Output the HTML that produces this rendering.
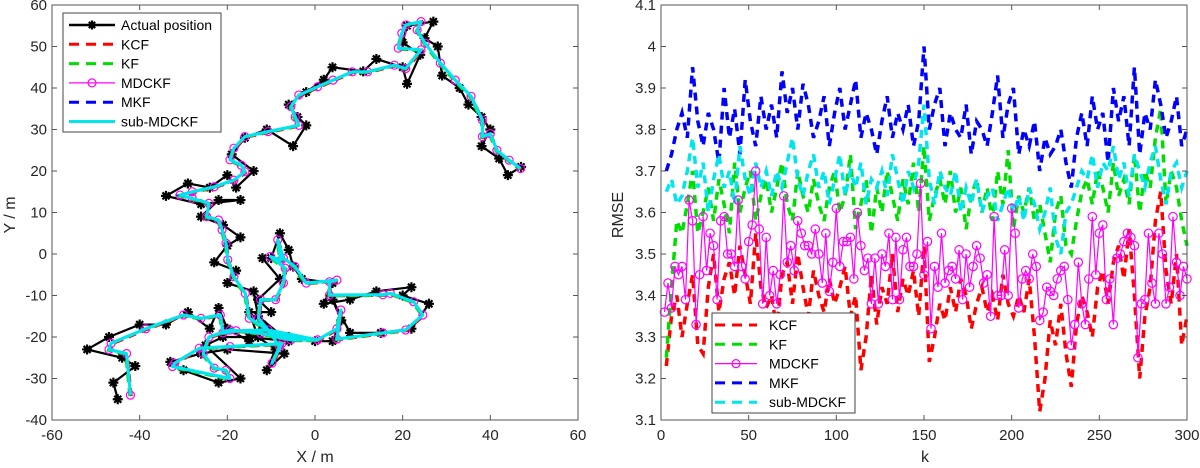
<!DOCTYPE html>
<html><head><meta charset="utf-8"><style>
body{margin:0;background:#fff;}
svg{display:block;font-family:"Liberation Sans",Arial,sans-serif;}
</style></head><body>
<svg id="fig" width="1200" height="468" viewBox="0 0 1200 468">
<g id="left"></g>
<g id="right"></g>
</svg>
<script>
// ---------- Left chart data ----------
const actualX=[-45,-46,-41,-44,-52,-47,-40,-34,-29,-24,-22,-20,-15,-12,-6,0,4,6,4,8,15,22,26,20,22,14,8,2,4,-3,-5,-6,-8,-10,-12,-8,-13,-10,-15,-13,-9,-11,-7,-20,-26,-33,-30,-22,-17,-25,-21,-15,-6,-13,-14,-20,-18,-23,-20,-17,-21,-26,-22,-17,-26,-34,-29,-24,-20,-18,-14,-19,-16,-11,-5,-2,-4,-6,-2,2,4,11,14,20,21,24,20,21,27,25,28,29,33,35,38,40,38,42,44,47];
const actualY=[-35,-31,-27,-25,-23,-20,-17,-17,-14,-18,-13,-18,-21,-17,-20,-21,-21,-16,-11,-19,-19,-18,-12,-10,-8,-9,-11,-12,-7,-6,-3,1,5,-1,-1,-6,-11,-14,-14,-20,-23,-28,-24,-23,-24,-26,-28,-31,-30,-22,-20,-20,-21,-15,-9,-7,-4,-2,2,4,7,9,13,13,12,14,17,16,19,16,20,24,28,30,26,31,33,36,39,42,45,44,47,45,41,48,51,55,56,52,50,43,40,36,33,30,26,23,19,21];
const estX=[-42.1,-43,-47,-46.5,-38.6,-30,-26,-21.6,-21,-18,-10.7,-9,0.6,5,5.9,5,15.5,20.7,24.6,22.5,17.2,15.5,3.3,3.3,5,-2,-4.6,-7.2,-8.5,-7.8,-10.2,-6.8,-7.2,-9,-12.4,-12.9,-10.7,-8.1,-9.8,-7.6,-19.4,-26.4,-32,-32.5,-19.4,-20.3,-23,-25.5,-24.2,-19.4,-12.4,-5.5,0.6,-10.7,-15,-15.9,-18.5,-19.9,-20.3,-21.2,-22,-24.7,-24.2,-28,-30.8,-28,-23,-18.5,-16,-16.8,-19.4,-18.5,-16,-10.7,-3.7,-4.5,-5.5,-3.7,0.6,4.1,8.5,12,18.1,20.7,24.2,19,19.8,20.7,24.2,23.3,25.1,28.6,32,35.6,38.2,38.2,40,41.5,44.3,46.9];
const estY=[-34,-24,-23,-21.5,-18,-14.7,-15.5,-14.7,-19,-18.5,-18.3,-19.5,-20.7,-18,-13.5,-20.5,-19,-18.3,-14.7,-11.5,-9.5,-9.8,-9.9,-6.7,-6.3,-7,-3,-1,3.4,-1.5,-0.6,-3.4,-7,-11,-11,-15.5,-18.3,-22.3,-26.3,-21.6,-22.3,-22.7,-26.3,-27.1,-30,-28,-27.5,-24,-20,-18.3,-19.1,-20.7,-20.7,-18.3,-15.5,-9.5,-5.5,-1.4,2.6,5.8,8.2,9,12.2,13.4,14.2,15,16.2,17.8,19.8,21.4,22.7,25.5,28.3,29.5,31,33,35.5,38.3,40.3,41.9,43.9,43.9,45.5,44.7,49.2,49.6,53.2,55.2,56,54,50.8,46,41.9,38,32.3,28.3,29,25,22.6,20.6];
const leftXTicks=[-60,-40,-20,0,20,40,60];
const leftYTicks=[60,50,40,30,20,10,0,-10,-20,-30,-40];
// ---------- Right chart data ----------
const kcf=[3.23,3.35,3.40,3.30,3.38,3.45,3.28,3.26,3.42,3.50,3.36,3.44,3.48,3.40,3.52,3.45,3.38,3.55,3.42,3.37,
3.40,3.32,3.45,3.48,3.38,3.50,3.42,3.35,3.46,3.40,
3.36,3.44,3.38,3.42,3.47,3.35,3.40,3.22,3.30,3.45,
3.33,3.42,3.38,3.50,3.36,3.44,3.40,3.46,3.35,3.52,
3.24,3.30,3.38,3.34,3.42,3.36,3.44,3.40,3.32,3.38,
3.42,3.36,3.40,3.34,3.45,3.38,3.35,3.40,3.36,3.44,
3.30,3.12,3.20,3.34,3.28,3.38,3.26,3.18,3.33,3.40,
3.36,3.30,3.42,3.46,3.38,3.48,3.52,3.44,3.56,3.40,
3.20,3.35,3.42,3.58,3.65,3.46,3.38,3.50,3.28,3.35];
const kf=[3.25,3.42,3.58,3.55,3.62,3.70,3.55,3.60,3.66,3.58,3.68,3.62,3.55,3.72,3.60,3.66,3.70,3.58,3.64,3.68,
3.60,3.66,3.72,3.62,3.58,3.70,3.64,3.60,3.68,3.62,
3.58,3.66,3.70,3.60,3.64,3.74,3.56,3.62,3.68,3.55,
3.66,3.60,3.70,3.64,3.58,3.68,3.62,3.72,3.60,3.76,
3.58,3.64,3.68,3.62,3.70,3.60,3.66,3.56,3.64,3.68,
3.60,3.66,3.58,3.70,3.62,3.75,3.56,3.64,3.60,3.66,
3.58,3.62,3.55,3.48,3.60,3.64,3.52,3.50,3.58,3.65,
3.68,3.62,3.70,3.66,3.60,3.72,3.64,3.68,3.62,3.74,
3.60,3.70,3.66,3.78,3.85,3.62,3.70,3.66,3.58,3.52];
const mkf=[3.70,3.74,3.80,3.84,3.78,3.95,3.82,3.76,3.84,3.80,3.72,3.90,3.78,3.85,3.74,3.92,3.82,3.76,3.88,3.80,
3.86,3.78,3.94,3.84,3.90,3.80,3.91,3.86,3.78,3.82,
3.88,3.76,3.84,3.90,3.80,3.86,3.92,3.78,3.84,3.80,
3.74,3.82,3.88,3.78,3.84,3.80,3.86,3.76,3.82,4.00,
3.80,3.86,3.90,3.76,3.84,3.80,3.78,3.86,3.74,3.82,
3.80,3.76,3.84,3.93,3.78,3.86,3.90,3.74,3.80,3.76,
3.82,3.70,3.78,3.74,3.76,3.80,3.72,3.66,3.78,3.84,
3.76,3.88,3.80,3.84,3.72,3.90,3.82,3.88,3.76,3.95,
3.74,3.84,3.80,3.92,3.86,3.78,3.82,3.88,3.76,3.80];
const sub=[3.65,3.68,3.62,3.64,3.70,3.78,3.66,3.72,3.60,3.68,3.74,3.66,3.70,3.62,3.76,3.68,3.64,3.72,3.66,3.70,
3.64,3.70,3.66,3.72,3.78,3.68,3.64,3.70,3.74,3.66,
3.70,3.62,3.68,3.74,3.64,3.70,3.66,3.72,3.62,3.68,
3.66,3.70,3.64,3.74,3.68,3.62,3.70,3.66,3.72,3.86,
3.68,3.62,3.70,3.66,3.64,3.70,3.60,3.66,3.62,3.68,
3.60,3.64,3.66,3.58,3.62,3.66,3.60,3.64,3.58,3.66,
3.62,3.56,3.60,3.66,3.54,3.50,3.60,3.62,3.66,3.70,
3.68,3.74,3.66,3.72,3.70,3.76,3.68,3.72,3.64,3.74,
3.70,3.66,3.72,3.76,3.68,3.62,3.70,3.72,3.66,3.70];
const mdckf=[3.36,3.43,3.37,3.47,3.45,3.47,3.39,3.63,3.58,3.33,3.45,3.59,3.46,3.55,3.52,3.39,3.58,3.59,3.50,3.50,
3.47,3.63,3.47,3.44,3.53,3.57,3.70,3.56,3.38,3.54,3.40,3.46,3.38,3.45,3.64,3.48,3.52,3.46,3.58,3.55,
3.52,3.52,3.50,3.56,3.50,3.43,3.55,3.41,3.48,3.61,3.47,3.53,3.53,3.54,3.44,3.60,3.52,3.46,3.49,3.38,
3.49,3.38,3.50,3.47,3.55,3.39,3.54,3.39,3.51,3.54,3.47,3.47,3.50,3.67,3.45,3.53,3.32,3.47,3.42,3.55,
3.43,3.46,3.47,3.44,3.51,3.39,3.50,3.42,3.47,3.52,3.49,3.43,3.45,3.35,3.59,3.40,3.40,3.51,3.40,3.61,
3.55,3.37,3.44,3.46,3.44,3.50,3.47,3.34,3.36,3.42,3.41,3.40,3.44,3.46,3.47,3.39,3.28,3.33,3.48,3.38,
3.33,3.44,3.59,3.45,3.55,3.57,3.39,3.44,3.33,3.49,3.50,3.53,3.55,3.54,3.52,3.25,3.38,3.39,3.55,3.43,
3.38,3.55,3.50,3.38,3.42,3.59,3.48,3.40,3.47,3.44];
const rightXTicks=[0,50,100,150,200,250,300];
const rightYTicks=[3.1,3.2,3.3,3.4,3.5,3.6,3.7,3.8,3.9,4.0,4.1];

const NS='http://www.w3.org/2000/svg';
function mk(parent,tag,attrs,text){const e=document.createElementNS(NS,tag);for(const k in attrs)e.setAttribute(k,attrs[k]);if(text!==undefined)e.textContent=text;parent.appendChild(e);return e;}

const L={x0:52,x1:578,y0:5,y1:420};
const lx=v=>L.x0+(v+60)/120*(L.x1-L.x0);
const ly=v=>L.y0+(60-v)/100*(L.y1-L.y0);
const R={x0:661,x1:1187,y0:5,y1:420};
const rx=k=>R.x0+k/300*(R.x1-R.x0);
const ry=v=>R.y0+(4.1-v)/1.0*(R.y1-R.y0);

function star(g,x,y,s){
  const d=`M${x-s},${y}L${x+s},${y}M${x},${y-s}L${x},${y+s}M${x-s*0.7},${y-s*0.7}L${x+s*0.7},${y+s*0.7}M${x-s*0.7},${y+s*0.7}L${x+s*0.7},${y-s*0.7}`;
  const p=mk(g,'path',{d:d,stroke:'#000','stroke-width':2.2,fill:'none'});
  
  
}
function circ(g,x,y,r){
  const c=mk(g,'circle',{cx:x,cy:y,r:r,fill:'none',stroke:'#ff00ff','stroke-width':1.2});
  
  
}

// ---------- LEFT ----------
const lg=document.getElementById('left');
mk(lg,'rect',{x:L.x0,y:L.y0,width:L.x1-L.x0,height:L.y1-L.y0,fill:'#fff',stroke:'none'});
let d=actualX.map((v,i)=>(i?'L':'M')+lx(v).toFixed(1)+','+ly(actualY[i]).toFixed(1)).join('');
let p=mk(lg,'path',{d:d,fill:'none',stroke:'#000','stroke-width':2.2});


actualX.forEach((v,i)=>star(lg,lx(v),ly(actualY[i]),5));
const ed=estX.map((v,i)=>(i?'L':'M')+lx(v).toFixed(1)+','+ly(estY[i]).toFixed(1)).join('');
p=mk(lg,'path',{d:ed,fill:'none',stroke:'#ff0000','stroke-width':2.5,'stroke-dasharray':'8 6',transform:'translate(1,1)'});


p=mk(lg,'path',{d:ed,fill:'none',stroke:'#00dd00','stroke-width':2.5,'stroke-dasharray':'8 6',transform:'translate(-1,1)'});


p=mk(lg,'path',{d:ed,fill:'none',stroke:'#ff00ff','stroke-width':1.2});


estX.forEach((v,i)=>circ(lg,lx(v),ly(estY[i]),4));
p=mk(lg,'path',{d:ed,fill:'none',stroke:'#0000ff','stroke-width':2.5,'stroke-dasharray':'8 6'});


p=mk(lg,'path',{d:ed,fill:'none',stroke:'#00e5ee','stroke-width':3.2,'stroke-linejoin':'round'});



function axesFrame(g,A,xt,yt,fx,fy,fmtY,name){
  const fr=mk(g,'rect',{x:A.x0,y:A.y0,width:A.x1-A.x0,height:A.y1-A.y0,fill:'none',stroke:'#555','stroke-width':1});
  
  
  xt.forEach(v=>{const x=fx(v);
    mk(g,'path',{d:`M${x},${A.y1}L${x},${A.y1-5}M${x},${A.y0}L${x},${A.y0+5}`,stroke:'#555','stroke-width':1});
    const t=mk(g,'text',{x:x,y:A.y1+20,'text-anchor':'middle','font-size':15,fill:'#262626'},String(v));
    
    
  });
  yt.forEach(v=>{const y=fy(v);
    mk(g,'path',{d:`M${A.x0},${y}L${A.x0+5},${y}M${A.x1},${y}L${A.x1-5},${y}`,stroke:'#555','stroke-width':1});
    const t=mk(g,'text',{x:A.x0-5,y:y+5,'text-anchor':'end','font-size':15,fill:'#262626'},fmtY(v));
    
    
  });
}
axesFrame(lg,L,leftXTicks,leftYTicks,lx,ly,v=>String(v),'trajectory');
let t=mk(lg,'text',{x:315,y:462,'text-anchor':'middle','font-size':16,fill:'#262626'},'X / m');

t=mk(lg,'text',{x:0,y:0,'text-anchor':'middle','font-size':16,fill:'#262626',transform:'translate(15,215) rotate(-90)'},'Y / m');


const llg=mk(lg,'g',{});


mk(llg,'rect',{x:63,y:13,width:158,height:119,fill:'#fff',stroke:'#444','stroke-width':1});
const legL=[['Actual position','#000','none',2.5],['KCF','#ff0000','10 7',3],['KF','#00dd00','10 7',3],['MDCKF','#ff00ff','none',1.2],['MKF','#0000ff','10 7',3],['sub-MDCKF','#00e5ee','none',3]];
legL.forEach((e,i)=>{const y=25+i*19.3;
  const it=mk(llg,'g',{});
  
  
  mk(it,'path',{d:`M69,${y}L115,${y}`,stroke:e[1],'stroke-width':e[3],'stroke-dasharray':e[2]});
  if(i===0)star(it,92,y,4.5);
  if(i===3)circ(it,92,y,4);
  mk(it,'text',{x:121,y:y+5,'font-size':14,fill:'#000'},e[0]);
});

// ---------- RIGHT ----------
const rg=document.getElementById('right');
function seriesPath(arr,step,start){return arr.map((v,i)=>(i?'L':'M')+rx(start+i*step).toFixed(1)+','+ry(v).toFixed(1)).join('');}
const rs=[[kcf,'#ff0000','kcf-line'],[kf,'#00dd00','kf-line'],[mkf,'#0000ff','mkf-line'],[sub,'#00e5ee','sub-mdckf-line']];
rs.forEach(s=>{const pp=mk(rg,'path',{d:seriesPath(s[0],3,3),fill:'none',stroke:s[1],'stroke-width':3.5,'stroke-dasharray':'8 6'});
  
  
});
p=mk(rg,'path',{d:seriesPath(mdckf,2,2),fill:'none',stroke:'#ff00ff','stroke-width':1.2});


mdckf.forEach((v,i)=>circ(rg,rx(2+i*2),ry(v),4.2));
axesFrame(rg,R,rightXTicks,rightYTicks,rx,ry,v=>(v===4.0?'4':v.toFixed(1)),'rmse');
t=mk(rg,'text',{x:925,y:462,'text-anchor':'middle','font-size':16,fill:'#262626'},'k');

t=mk(rg,'text',{x:0,y:0,'text-anchor':'middle','font-size':16,fill:'#262626',transform:'translate(623,215) rotate(-90)'},'RMSE');

const rlg=mk(rg,'g',{});


mk(rlg,'rect',{x:712,y:313,width:143,height:100,fill:'#fff',stroke:'#444','stroke-width':1});
const legR=[['KCF','#ff0000','10 7',3],['KF','#00dd00','10 7',3],['MDCKF','#ff00ff','none',1.2],['MKF','#0000ff','10 7',3],['sub-MDCKF','#00e5ee','10 7',3]];
legR.forEach((e,i)=>{const y=325+i*19.3;
  const it=mk(rlg,'g',{});
  
  
  mk(it,'path',{d:`M715,${y}L757,${y}`,stroke:e[1],'stroke-width':e[3],'stroke-dasharray':e[2]});
  if(i===2)circ(it,736,y,4);
  mk(it,'text',{x:769,y:y+5,'font-size':14,fill:'#000'},e[0]);
});
</script>
</body></html>
